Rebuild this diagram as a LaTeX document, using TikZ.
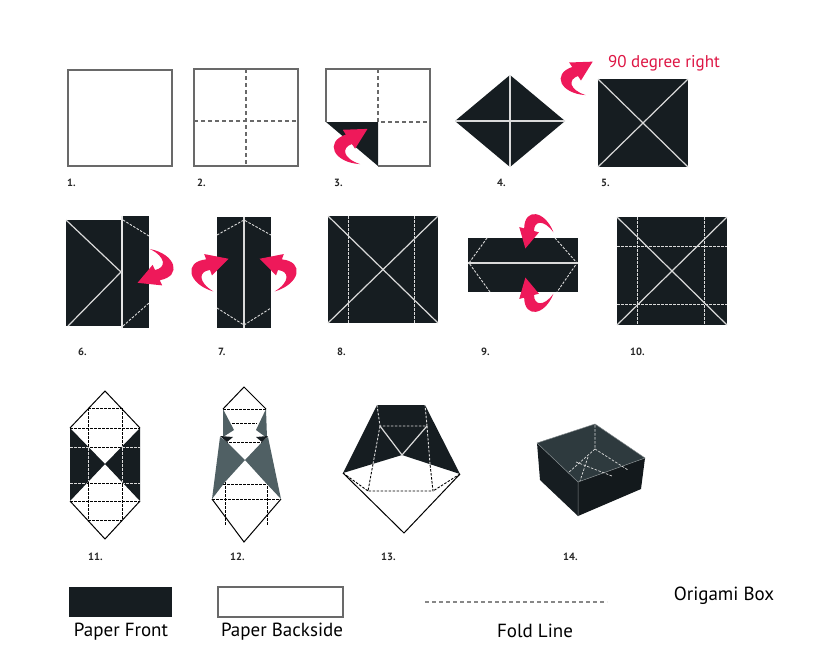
\documentclass[tikz,border=0pt]{standalone}
\usepackage{fontspec}
\setmainfont{PT Sans}
\definecolor{paper}{RGB}{22,29,33}
\definecolor{boxtop}{RGB}{46,58,62}
\definecolor{flap}{RGB}{80,96,100}
\definecolor{edgegray}{RGB}{105,105,105}
\definecolor{creasewhite}{RGB}{218,218,218}
\definecolor{hookpink}{RGB}{238,25,90}
\definecolor{hookred}{RGB}{222,22,68}

\begin{document}
\begin{tikzpicture}[x=1pt,y=-1pt,
    outline/.style={draw=edgegray,line width=1.8pt},
    fold/.style={draw=edgegray,line width=1.5pt,dash pattern=on 4pt off 3pt},
    crease/.style={draw=creasewhite,line width=1.2pt},
    wfold/.style={draw=creasewhite,line width=0.9pt,dash pattern=on 2.5pt off 1.5pt},
    bfold/.style={draw=black,line width=0.9pt,dash pattern=on 2.5pt off 1.5pt},
    cutedge/.style={draw=black,line width=1pt},
    num/.style={font=\fontsize{10.5}{12}\selectfont\bfseries,text=black!85,anchor=west,inner sep=0pt},
    legend/.style={font=\fontsize{19}{22}\selectfont,inner sep=0pt},
    foldhook/.pic={\fill[hookpink] (12,18) .. controls (-14,22) and (-28,4) .. (-8,-8)
        -- (-12,-12) -- (12,-18) -- (4,4) -- (0,0) .. controls (-10,6) and (-6,16) .. (12,18) -- cycle;}]

  \fill[white] (0,0) rectangle (834,659);
  \useasboundingbox (0,0) rectangle (834,659);

  % row one
  \draw[outline] (68,70) rectangle (172,166);
  \node[num] (n1) at (67,183) {1.};

  \draw[outline] (194,69) rectangle (298,166);
  \draw[fold] (246,69) -- (246,166) (194,121) -- (298,121);
  \node[num] (n2) at (197,183) {2.};

  \fill[paper] (326,122) -- (378,122) -- (378,166) -- cycle;
  \draw[outline] (326,122) -- (326,69) -- (430,69) -- (430,166) -- (378,166);
  \draw[fold] (378,69) -- (378,122) -- (430,122);
  \pic[rotate=-12] at (352,144) {foldhook};
  \node[num] (n3) at (334,183) {3.};

  \fill[paper] (510,75) -- (565,121) -- (510,167) -- (455,121) -- cycle;
  \draw[crease] (455,121) -- (565,121) (510,75) -- (510,167);
  \node[num] (n4) at (497,183) {4.};

  \fill[paper] (598,79) rectangle (688,167);
  \draw[crease] (598,79) -- (688,167) (598,167) -- (688,79);
  \pic[rotate=-12,scale=0.95] at (578,76) {foldhook};
  \node[font=\fontsize{17}{20}\selectfont,text=hookred,inner sep=0pt] (turn) at (664,63) {90 degree right};
  \node[num] (n5) at (601,183) {5.};

  % row two
  \fill[paper] (66,220) rectangle (121,326);
  \fill[paper] (123,216) rectangle (149,328);
  \draw[crease] (122,216) -- (122,328) (66,220) -- (121,272) -- (68,326);
  \draw[wfold] (123,220) -- (149,236) (123,326) -- (149,303);
  \pic[rotate=160] at (155,270) {foldhook};
  \node[num] (n6) at (78,352) {6.};

  \fill[paper] (217,217) rectangle (271,328);
  \draw[crease] (244,217) -- (244,328);
  \draw[wfold] (217,235) -- (244,220) -- (271,235) (217,308) -- (244,325) -- (271,308);
  \pic[rotate=-25] at (210,270) {foldhook};
  \pic[xscale=-1,rotate=-25] at (278,270) {foldhook};
  \node[num] (n7) at (218,352) {7.};

  \fill[paper] (328,216) rectangle (438,323);
  \draw[crease] (328,216) -- (438,323) (328,323) -- (438,216);
  \draw[wfold] (348,216) -- (348,323) (414,216) -- (414,323);
  \node[num] (n8) at (337,352) {8.};

  \fill[paper] (468,238) rectangle (578,292);
  \draw[crease] (468,263) -- (578,263);
  \draw[wfold] (487,238) -- (469,263) -- (490,292) (555,238) -- (577,263) -- (557,292);
  \pic[rotate=120,xscale=-1,scale=0.9] at (534,231) {foldhook};
  \pic[yscale=-1,rotate=120,xscale=-1,scale=0.9] at (534,295) {foldhook};
  \node[num] (n9) at (481,352) {9.};

  \fill[paper] (617,217) rectangle (727,325);
  \draw[crease] (617,217) -- (727,325) (617,325) -- (727,217);
  \draw[wfold] (637,217) -- (637,325) (704,217) -- (704,325) (617,246) -- (727,246) (617,304) -- (727,304);
  \node[num] (n10) at (630,352) {10.};

  % row three
  \fill[paper] (70,428) -- (105,464) -- (70,501) -- cycle;
  \fill[paper] (140,428) -- (105,464) -- (140,501) -- cycle;
  \draw[bfold] (88,408) -- (122,408) (70,428) -- (140,428) (70,447) -- (140,447) (70,483) -- (140,483)
    (70,501) -- (140,501) (88,520) -- (122,520) (88,408) -- (88,520) (122,408) -- (122,520);
  \begin{scope}
    \clip (70,428) -- (105,464) -- (70,501) -- cycle (140,428) -- (105,464) -- (140,501) -- cycle;
    \draw[wfold] (70,447) -- (140,447) (70,483) -- (140,483) (88,408) -- (88,520) (122,408) -- (122,520);
  \end{scope}
  \draw[cutedge] (70,428) -- (105,391) -- (140,428) (70,501) -- (105,539) -- (140,501);
  \node[num] (n11) at (88,557) {11.};

  \draw[bfold] (223,409) -- (266,409) (232,423) -- (257,423) (225,442) -- (268,442) (223,484) -- (268,484)
    (212,499) -- (281,499) (225,442) -- (225,525) (267,442) -- (267,525);
  \fill[flap] (223,409) -- (234,430) -- (223,437) -- cycle;
  \fill[flap] (266,409) -- (256,430) -- (267,438) -- cycle;
  \fill[flap] (220,437) -- (226,441) -- (245,460) -- (225,482) -- (212,499) -- cycle;
  \fill[flap] (268,437) -- (263,441) -- (245,460) -- (265,482) -- (281,499) -- cycle;
  \fill[paper] (220,436) -- (233,437) -- (227,442) -- cycle;
  \fill[paper] (268,436) -- (256,437) -- (262,442) -- cycle;
  \draw[cutedge] (223,409) -- (244,387) -- (266,409) (212,499) -- (244,542) -- (281,499);
  \node[num] (n12) at (230,557) {12.};

  \fill[paper] (377,405) -- (425,405) -- (460,474) -- (402,455) -- (343,473) -- cycle;
  \draw[wfold] (377,405) -- (380,426) -- (427,426) -- (425,405) (380,426) -- (373,464) (427,426) -- (430,464);
  \draw[crease] (380,426) -- (402,455) -- (427,426);
  \draw[bfold] (373,464) -- (368,491) -- (433,491) -- (430,464) (343,473) -- (368,491) (460,474) -- (433,491);
  \draw[cutedge] (343,473) -- (404,533) -- (460,474);
  \node[num] (n13) at (381,557) {13.};

  \fill[paper] (537,443) -- (578,482) -- (578,516) -- (540,480) -- cycle;
  \fill[paper!85!black] (578,482) -- (645,458) -- (641,489) -- (578,516) -- cycle;
  \fill[boxtop] (537,443) -- (595,424) -- (645,458) -- (578,482) -- cycle;
  \draw[boxtop!60!white,line width=0.5pt] (537,443) -- (595,424) -- (645,458) -- (578,482) -- cycle (578,482) -- (578,516);
  \draw[wfold,line width=0.7pt] (595,425) -- (595,449) -- (568,473) (595,449) -- (628,470)
    (588,457) -- (580,481) (576,462) -- (612,476);
  \node[num] (n14) at (563,557) {14.};

  % key
  \fill[paper] (69,587) rectangle (172,617);
  \draw[edgegray,line width=1.2pt] (218,587) rectangle (343,617);
  \draw[fold,draw=edgegray!80,line width=1.2pt] (425,602) -- (607,602);
  \node[legend] (front) at (121,632) {Paper Front};
  \node[legend] (back) at (282,632) {Paper Backside};
  \node[legend] (foldkey) at (535,631) {Fold Line};
  \node[legend] (title) at (724,596) {Origami Box};

\end{tikzpicture}
\end{document}
